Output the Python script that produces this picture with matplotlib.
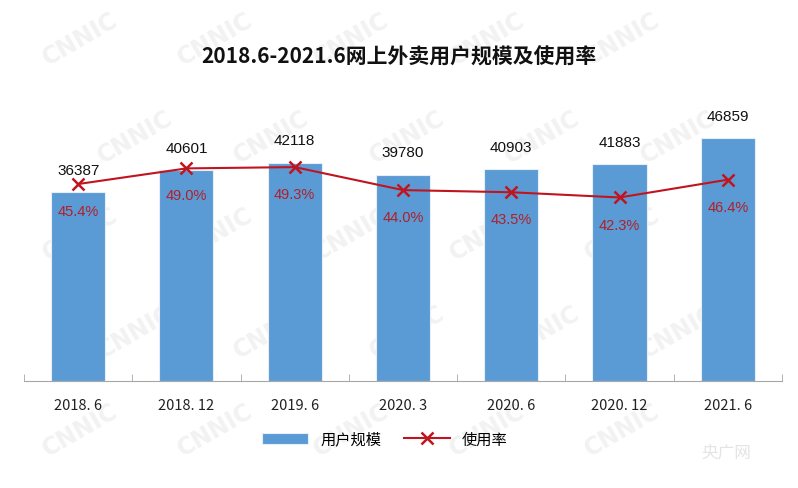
import matplotlib.pyplot as plt
import numpy as np

plt.rcParams['font.family'] = ['Noto Sans CJK SC', 'DejaVu Sans']

# data
periods = ['2018. 6', '2018. 12', '2019. 6', '2020. 3', '2020. 6', '2020. 12', '2021. 6']
users = [36387, 40601, 42118, 39780, 40903, 41883, 46859]   # 万
rate = [45.4, 49.0, 49.3, 44.0, 43.5, 42.3, 46.4]           # %

bar_color = '#5b9bd5'
line_color = '#c0141e'

fig = plt.figure(figsize=(7.98, 4.89), dpi=100)

# watermark (behind everything)
for i, wy in enumerate([0.92, 0.72, 0.52, 0.32, 0.12]):
    for wx in [0.1, 0.27, 0.44, 0.61, 0.78]:
        fig.text(wx + 0.07 * (i % 2), wy, 'CNNIC', fontsize=17, fontweight='bold',
                 color='#f2f2f2', rotation=30, ha='center', va='center', zorder=-5,
                 family=['DejaVu Sans'])
fig.text(0.91, 0.075, '央广网', fontsize=12, color='#e4e4e4', ha='center', va='center',
         zorder=-5)

ax = fig.add_axes([24/798, 107/489, 758/798, 292/489])
ax.patch.set_alpha(0)
x = np.arange(len(periods))

ax.bar(x, users, width=0.5, color=bar_color, edgecolor='#e8eef5', linewidth=0.8,
       label='用户规模', zorder=2)
for xi, v in zip(x, users):
    ax.annotate(str(v), (xi, v), xytext=(0, 16), textcoords='offset points',
                ha='center', va='center', fontsize=11,
                family=['Liberation Sans', 'DejaVu Sans'], color='#111111', zorder=5)

ax.set_xlim(-0.5, len(periods) - 0.5)
ax.set_ylim(0, 56300)
ax.set_yticks([])
for s in ['left', 'right', 'top']:
    ax.spines[s].set_visible(False)
ax.spines['bottom'].set_color('#a6a6a6')
ax.set_xticks(x)
ax.set_xticklabels(periods, fontsize=10.5, color='#222222')
ax.tick_params(axis='x', which='major', length=0, pad=12)
ax.set_xticks(np.arange(-0.5, len(periods)), minor=True)
ax.tick_params(axis='x', which='minor', direction='in', length=5, color='#a6a6a6')

ax2 = ax.twinx()
ax2.patch.set_alpha(0)
ax2.plot(x, rate, color=line_color, marker='x', markersize=8, markeredgewidth=1.8,
         linewidth=1.5, label='使用率', zorder=4)
for xi, r in zip(x, rate):
    ax2.annotate(f'{r:.1f}%', (xi, r), xytext=(0, -19.5), textcoords='offset points',
                 ha='center', va='center', fontsize=10.5,
                 family=['Liberation Sans', 'DejaVu Sans'], color='#b0202a', zorder=5)
ax2.set_ylim(0, 67.3)
ax2.set_yticks([])
for s in ['left', 'right', 'top', 'bottom']:
    ax2.spines[s].set_visible(False)

fig.text(0.5, 1 - 57/489, '2018.6-2021.6网上外卖用户规模及使用率', ha='center', va='center',
         fontsize=15, fontweight='bold', color='#111111')

h1, l1 = ax.get_legend_handles_labels()
h2, l2 = ax2.get_legend_handles_labels()
fig.legend(h1 + h2, l1 + l2, loc='center', bbox_to_anchor=(385/798, 1 - 440/489),
           ncol=2, frameon=False, fontsize=11, handlelength=3, columnspacing=1.5)

fig.savefig('out.png', dpi=100)
